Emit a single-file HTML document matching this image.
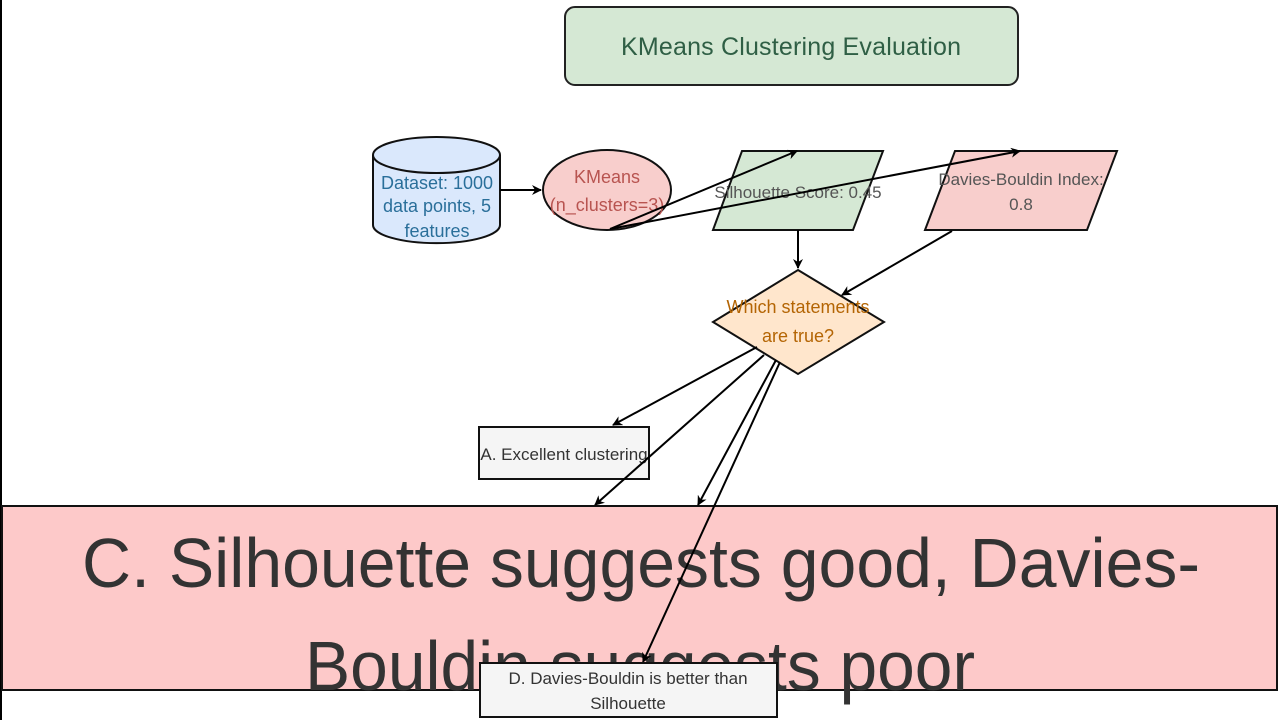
<!DOCTYPE html>
<html><head><meta charset="utf-8"><style>
html,body{margin:0;padding:0;background:#fff;}
svg{display:block;font-family:"Liberation Sans",sans-serif;}
</style></head><body>
<svg width="1280" height="720" viewBox="0 0 1280 720" xmlns="http://www.w3.org/2000/svg">
<defs>
<marker id="a" markerWidth="10" markerHeight="10" refX="9" refY="5" orient="auto" markerUnits="userSpaceOnUse">
<path d="M0,0 L10,5 L0,10 L3,5 Z" fill="#000"/></marker>
</defs>
<rect width="1280" height="720" fill="#fff"/>
<line x1="1" y1="0" x2="1" y2="720" stroke="#000" stroke-width="2"/>
<!-- title -->
<rect x="565" y="7" width="453" height="78" rx="10" fill="#d5e8d4" stroke="#222" stroke-width="2"/>
<text x="791" y="55" font-size="25" fill="#2f5f45" text-anchor="middle" textLength="340">KMeans Clustering Evaluation</text>
<!-- cylinder -->
<path d="M373,155 L373,225 A63,18 0 0 0 500,225 L500,155" fill="#dae8fc" stroke="#111" stroke-width="2"/>
<ellipse cx="436.5" cy="155" rx="63.5" ry="18" fill="#dae8fc" stroke="#111" stroke-width="2"/>
<g font-size="18" fill="#2a6f9a" text-anchor="middle">
<text x="437" y="189">Dataset: 1000</text>
<text x="437" y="212">data points, 5</text>
<text x="437" y="237">features</text></g>
<!-- ellipse -->
<ellipse cx="607" cy="190" rx="64" ry="40" fill="#f8cecc" stroke="#111" stroke-width="2"/>
<g font-size="18" fill="#b85450" text-anchor="middle">
<text x="607" y="183">KMeans</text>
<text x="607" y="211">(n_clusters=3)</text></g>
<!-- parallelograms -->
<polygon points="742,151 883,151 853,230 713,230" fill="#d5e8d4" stroke="#111" stroke-width="2"/>
<text x="798" y="198" font-size="17" fill="#555" text-anchor="middle">Silhouette Score: 0.45</text>
<polygon points="955,151 1117,151 1087,230 925,230" fill="#f8cecc" stroke="#111" stroke-width="2"/>
<g font-size="17" fill="#555" text-anchor="middle">
<text x="1021" y="185">Davies-Bouldin Index:</text>
<text x="1021" y="210">0.8</text></g>
<!-- diamond -->
<polygon points="798,270 884,322 798,374 713,322" fill="#ffe6cc" stroke="#111" stroke-width="2"/>
<g font-size="18" fill="#b46504" text-anchor="middle">
<text x="798" y="313">Which statements</text>
<text x="798" y="342">are true?</text></g>
<!-- A -->
<rect x="479" y="427" width="170" height="52" fill="#f5f5f5" stroke="#111" stroke-width="2"/>
<text x="564" y="460" font-size="17" fill="#333" text-anchor="middle">A. Excellent clustering</text>
<!-- C -->
<rect x="2" y="506" width="1275" height="184" fill="#fdc9c9" stroke="#111" stroke-width="2"/>
<g font-size="70" fill="#333" text-anchor="middle">
<text x="641" y="587" textLength="1118" lengthAdjust="spacingAndGlyphs">C. Silhouette suggests good, Davies-</text>
<text x="640" y="690" textLength="670" lengthAdjust="spacingAndGlyphs">Bouldin suggests poor</text></g>
<!-- arrows -->
<g stroke="#000" stroke-width="2" fill="none" marker-end="url(#a)">
<line x1="500" y1="190" x2="541" y2="190"/>
<line x1="610" y1="229" x2="797" y2="151"/>
<line x1="610" y1="229" x2="1020" y2="151"/>
<line x1="798" y1="230" x2="798" y2="268"/>
<line x1="952" y1="231" x2="842" y2="295"/>
<line x1="757" y1="347" x2="613" y2="425"/>
<line x1="764" y1="355" x2="595" y2="505"/>
<line x1="776" y1="360" x2="698" y2="505"/>
<line x1="780" y1="362" x2="643" y2="662"/>
</g>
<!-- D -->
<rect x="480" y="663" width="297" height="54" fill="#f5f5f5" stroke="#111" stroke-width="2"/>
<g font-size="17" fill="#333" text-anchor="middle">
<text x="628" y="684">D. Davies-Bouldin is better than</text>
<text x="628" y="709">Silhouette</text></g>
</svg>
</body></html>
